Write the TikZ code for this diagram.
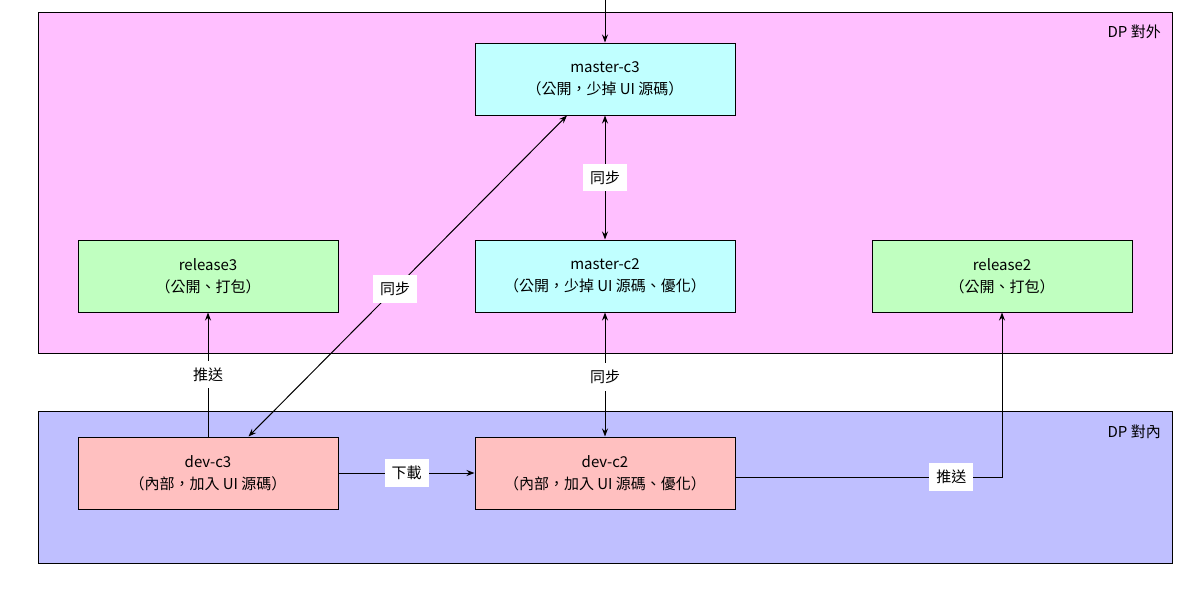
\documentclass[tikz,border=0pt]{standalone}
\usepackage{fontspec}
\setmainfont{Noto Sans CJK TC}
\usetikzlibrary{arrows.meta,positioning}
\definecolor{outerbg}{HTML}{FFBFFF}
\definecolor{innerbg}{HTML}{BFBFFF}
\definecolor{mastercol}{HTML}{C0FFFF}
\definecolor{releasecol}{HTML}{C0FFC0}
\definecolor{devcol}{HTML}{FFC0C0}
\tikzset{
  every branch/.style={draw, line width=0.5pt, minimum width=130pt, minimum height=36pt,
    align=center, font=\fontsize{7.5}{11}\selectfont},
  master/.style={every branch, fill=mastercol},
  release/.style={every branch, fill=releasecol},
  dev/.style={every branch, fill=devcol},
  tag/.style={fill=white, inner sep=3.5pt, font=\fontsize{7.5}{9}\selectfont},
  zone/.style={draw, line width=0.5pt},
}
\begin{document}
\begin{tikzpicture}[x=0.5pt, y=-0.5pt, >={Stealth[length=4pt,width=3pt]}, line width=0.5pt]
\useasboundingbox (0,0) rectangle (1200,600);

% zones
\draw [zone, fill=outerbg] (38,12) rectangle (1172,353);
\draw [zone, fill=innerbg] (38,411) rectangle (1172,563);
\node [anchor=north east, font=\fontsize{7.5}{9}\selectfont] at (1168,18) {DP 對外};
\node [anchor=north east, font=\fontsize{7.5}{9}\selectfont] at (1168,418) {DP 對內};

% branches
\node [master] (master-c3) at (605,79) {master-c3\\（公開，少掉 UI 源碼）};
\node [master] (master-c2) at (605,276) {master-c2\\（公開，少掉 UI 源碼、優化）};
\node [release] (release3) at (208,276) {release3\\（公開、打包）};
\node [release] (release2) at (1002,276) {release2\\（公開、打包）};
\node [dev] (dev-c3) at (208,473) {dev-c3\\（內部，加入 UI 源碼）};
\node [dev] (dev-c2) at (605,473) {dev-c2\\（內部，加入 UI 源碼、優化）};

\coordinate (top) at (605,0);
\coordinate (turn) at (1002,477);

% connectors
\draw [->] (top) -- (master-c3);
\draw [<->] (master-c3) -- (master-c2) node [tag, midway] {同步};
\draw [<->] (master-c2) -- (dev-c2) node [tag, pos=0.52] {同步};
\draw [->] (dev-c3) -- (release3) node [tag, midway] {推送};
\draw [<->] (dev-c3.north east) ++(-90,0) coordinate (dc3) (dc3) -- (master-c3.south west -| 567,0)
  node [tag, pos=0.46] {同步};
\draw [->] (dev-c3) -- (dev-c2) node [tag, midway] {下載};
\draw [->] (dev-c2.east |- turn) -- (turn) node [tag, pos=0.81] {推送} -- (release2.south |- turn) -- (release2);

\end{tikzpicture}
\end{document}
